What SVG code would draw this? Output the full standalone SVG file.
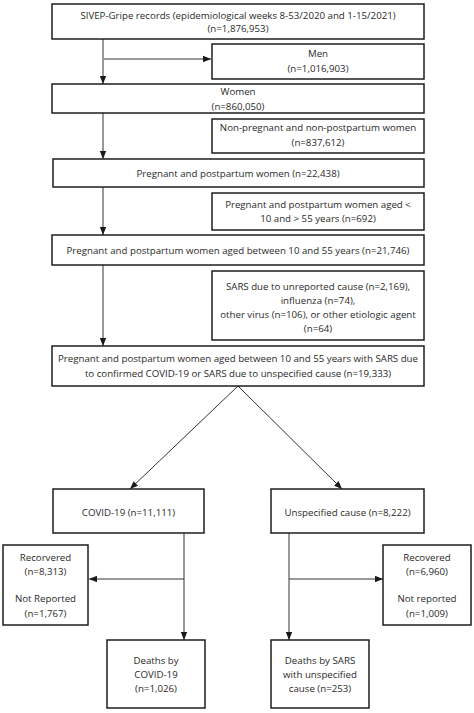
<svg xmlns="http://www.w3.org/2000/svg" width="474" height="713" viewBox="0 0 474 713">
<defs>
<marker id="ah" viewBox="0 0 10 10" refX="10" refY="5" markerWidth="8" markerHeight="8" markerUnits="userSpaceOnUse" orient="auto">
<path d="M0,1 L10,5 L0,9 Z" fill="#1a1a1a"/>
</marker>
<style>
.box{fill:#fff;stroke:#1e1e1e;stroke-width:1.5}
.t{font-family:"Open Sans","DejaVu Sans",sans-serif;font-size:9.7px;fill:#2a2a2a;text-anchor:middle;dominant-baseline:central}
.c{fill:none;stroke:#333;stroke-width:1}
</style>
</defs>
<rect width="474" height="713" fill="#fff"/>
<g id="connectors">
<line class="c" x1="103" y1="39" x2="103" y2="84" marker-end="url(#ah)"/>
<line class="c" x1="104" y1="59" x2="211" y2="59" marker-end="url(#ah)"/>
<line class="c" x1="103" y1="113" x2="103" y2="159" marker-end="url(#ah)"/>
<line class="c" x1="103" y1="187" x2="103" y2="235" marker-end="url(#ah)"/>
<line class="c" x1="103" y1="265" x2="103" y2="346" marker-end="url(#ah)"/>
<line class="c" x1="238" y1="386" x2="130" y2="489" marker-end="url(#ah)"/>
<line class="c" x1="238" y1="386" x2="342" y2="489" marker-end="url(#ah)"/>
<line class="c" x1="184" y1="533" x2="184" y2="640" marker-end="url(#ah)"/>
<line class="c" x1="184" y1="579" x2="89" y2="579" marker-end="url(#ah)"/>
<line class="c" x1="289" y1="533" x2="289" y2="640" marker-end="url(#ah)"/>
<line class="c" x1="289" y1="579" x2="383" y2="579" marker-end="url(#ah)"/>
</g>
<g id="n1"><rect class="box" x="52" y="4" width="372" height="35"/>
<text class="t" x="238" y="15">SIVEP-Gripe records (epidemiological weeks 8-53/2020 and 1-15/2021)</text>
<text class="t" x="238" y="28">(n=1,876,953)</text></g>
<g id="n2"><rect class="box" x="212" y="44" width="212" height="35"/>
<text class="t" x="318" y="53">Men</text>
<text class="t" x="318" y="68">(n=1,016,903)</text></g>
<g id="n3"><rect class="box" x="52" y="84" width="372" height="29"/>
<text class="t" x="238" y="91">Women</text>
<text class="t" x="238" y="106">(n=860,050)</text></g>
<g id="n4"><rect class="box" x="212" y="119" width="212" height="34"/>
<text class="t" x="318" y="127">Non-pregnant and non-postpartum women</text>
<text class="t" x="318" y="142">(n=837,612)</text></g>
<g id="n5"><rect class="box" x="53" y="159" width="371" height="28"/>
<text class="t" x="238" y="173">Pregnant and postpartum women (n=22,438)</text></g>
<g id="n6"><rect class="box" x="212" y="193" width="212" height="37"/>
<text class="t" x="318" y="204">Pregnant and postpartum women aged &lt;</text>
<text class="t" x="318" y="218">10 and &gt; 55 years (n=692)</text></g>
<g id="n7"><rect class="box" x="52" y="235" width="372" height="30"/>
<text class="t" x="238" y="250">Pregnant and postpartum women aged between 10 and 55 years (n=21,746)</text></g>
<g id="n8"><rect class="box" x="212" y="271" width="212" height="69"/>
<text class="t" x="318" y="286">SARS due to unreported cause (n=2,169),</text>
<text class="t" x="318" y="300">influenza (n=74),</text>
<text class="t" x="318" y="314">other virus (n=106), or other etiologic agent</text>
<text class="t" x="318" y="328">(n=64)</text></g>
<g id="n9"><rect class="box" x="52" y="346" width="372" height="40"/>
<text class="t" x="238" y="358">Pregnant and postpartum women aged between 10 and 55 years with SARS due</text>
<text class="t" x="238" y="373">to confirmed COVID-19 or SARS due to unspecified cause (n=19,333)</text></g>
<g id="n10"><rect class="box" x="53" y="489" width="151" height="44"/>
<text class="t" x="128.5" y="512">COVID-19 (n=11,111)</text></g>
<g id="n11"><rect class="box" x="271" y="489" width="153" height="44"/>
<text class="t" x="347.5" y="512">Unspecified cause (n=8,222)</text></g>
<g id="n12"><rect class="box" x="3" y="545" width="85" height="80"/>
<text class="t" x="45.5" y="557">Recorvered</text>
<text class="t" x="45.5" y="571">(n=8,313)</text>
<text class="t" x="45.5" y="598">Not Reported</text>
<text class="t" x="45.5" y="613">(n=1,767)</text></g>
<g id="n13"><rect class="box" x="383" y="545" width="88" height="80"/>
<text class="t" x="427" y="557">Recovered</text>
<text class="t" x="427" y="571">(n=6,960)</text>
<text class="t" x="427" y="598">Not reported</text>
<text class="t" x="427" y="613">(n=1,009)</text></g>
<g id="n14"><rect class="box" x="107" y="640" width="98" height="68"/>
<text class="t" x="156" y="660">Deaths by</text>
<text class="t" x="156" y="674">COVID-19</text>
<text class="t" x="156" y="688">(n=1,026)</text></g>
<g id="n15"><rect class="box" x="271" y="640" width="98" height="68"/>
<text class="t" x="320" y="660">Deaths by SARS</text>
<text class="t" x="320" y="674">with unspecified</text>
<text class="t" x="320" y="688">cause (n=253)</text></g>
</svg>
